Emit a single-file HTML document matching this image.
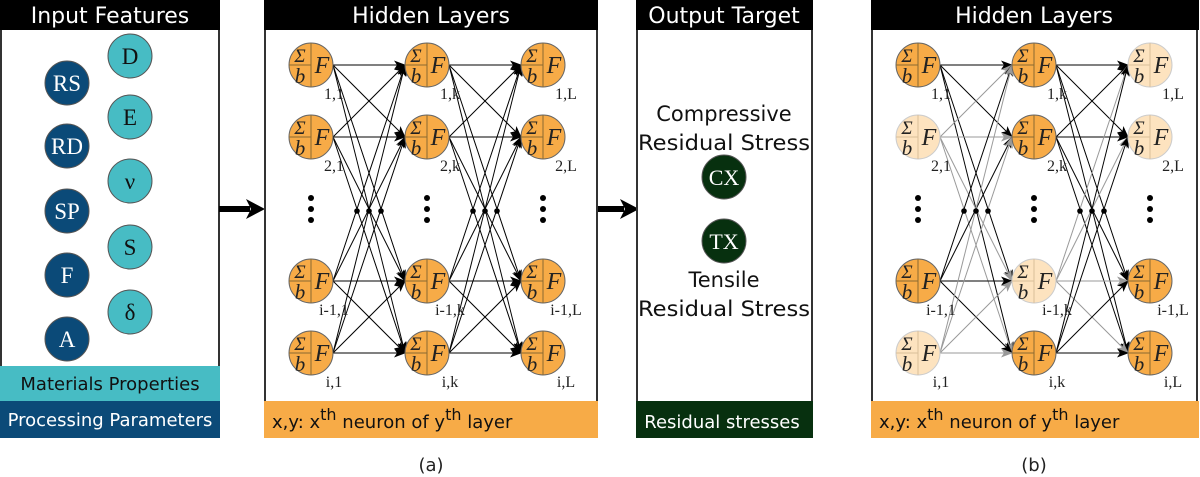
<!DOCTYPE html>
<html><head><meta charset="utf-8"><style>
html,body{margin:0;padding:0;background:#fff;width:1200px;height:477px;overflow:hidden}
svg{display:block}
.h{font-family:"DejaVu Sans","Liberation Sans",sans-serif;font-size:22px;fill:#fff}
.f{font-family:"DejaVu Sans","Liberation Sans",sans-serif;font-size:18px}
.m{font-family:"DejaVu Sans","Liberation Sans",sans-serif;font-size:21px;fill:#111}
.s{font-family:"Liberation Serif",serif}
</style></head><body>
<svg id="s" width="1200" height="477" viewBox="0 0 1200 477" xmlns="http://www.w3.org/2000/svg">
<defs>
<marker id="ab" markerWidth="12" markerHeight="9" refX="11" refY="4.5" orient="auto" markerUnits="userSpaceOnUse"><path d="M0,0 L12,4.5 L0,9 L3,4.5z" fill="#000"/></marker>
<marker id="ag" markerWidth="12" markerHeight="9" refX="11" refY="4.5" orient="auto" markerUnits="userSpaceOnUse"><path d="M0,0 L12,4.5 L0,9 L3,4.5z" fill="#999"/></marker>
</defs>
<rect x="1" y="1" width="218" height="436" fill="#fff" stroke="#333" stroke-width="2"/>
<rect x="0" y="0" width="220" height="30" fill="#000"/>
<text class="h" x="110" y="23" text-anchor="middle">Input Features</text>
<rect x="0" y="366" width="220" height="35" fill="#47bcc4"/>
<text class="f" x="110" y="390" text-anchor="middle" fill="#111">Materials Properties</text>
<rect x="0" y="401" width="220" height="37" fill="#0b4a78"/>
<text class="f" x="110" y="426" text-anchor="middle" fill="#fff">Processing Parameters</text>
<g id="inp"></g>
<path d="M219,209 H250" stroke="#000" stroke-width="6"/><path d="M246,199 L265,209 L246,219 L251,209z" fill="#000"/>
<path d="M597,209 H624" stroke="#000" stroke-width="6"/><path d="M620,199 L639,209 L620,219 L625,209z" fill="#000"/>
<rect x="265" y="1" width="332" height="436" fill="#fff" stroke="#333" stroke-width="2"/>
<rect x="264" y="0" width="334" height="30" fill="#000"/>
<text class="h" x="431" y="23" text-anchor="middle">Hidden Layers</text>
<rect x="264" y="401" width="334" height="37" fill="#f7ab47"/>
<text class="f" x="272" y="428" fill="#111">x,y: x<tspan dy="-8" font-size="16">th</tspan><tspan dy="8"> neuron of y</tspan><tspan dy="-8" font-size="16">th</tspan><tspan dy="8"> layer</tspan></text>
<rect x="637" y="1" width="175" height="436" fill="#fff" stroke="#333" stroke-width="2"/>
<rect x="636" y="0" width="177" height="30" fill="#000"/>
<text class="h" x="724" y="23" text-anchor="middle">Output Target</text>
<rect x="636" y="401" width="177" height="37" fill="#07300f"/>
<text class="f" x="722" y="428" text-anchor="middle" fill="#fff">Residual stresses</text>
<text class="m" x="724" y="121" text-anchor="middle">Compressive</text>
<text class="m" x="724" y="150" text-anchor="middle" textLength="172" lengthAdjust="spacingAndGlyphs">Residual Stress</text>
<text class="m" x="724" y="287" text-anchor="middle">Tensile</text>
<text class="m" x="724" y="316" text-anchor="middle" textLength="172" lengthAdjust="spacingAndGlyphs">Residual Stress</text>
<circle cx="724" cy="177" r="22" fill="#07300f" stroke="#555"/>
<text class="s" x="724" y="185" text-anchor="middle" font-size="22" fill="#fff">CX</text>
<circle cx="724" cy="241" r="22" fill="#07300f" stroke="#555"/>
<text class="s" x="724" y="249" text-anchor="middle" font-size="22" fill="#fff">TX</text>
<rect x="872" y="1" width="325" height="436" fill="#fff" stroke="#333" stroke-width="2"/>
<rect x="871" y="0" width="328" height="30" fill="#000"/>
<text class="h" x="1034" y="23" text-anchor="middle">Hidden Layers</text>
<rect x="871" y="401" width="328" height="37" fill="#f7ab47"/>
<text class="f" x="879" y="428" fill="#111">x,y: x<tspan dy="-8" font-size="16">th</tspan><tspan dy="8"> neuron of y</tspan><tspan dy="-8" font-size="16">th</tspan><tspan dy="8"> layer</tspan></text>
<text class="f" x="431" y="471" text-anchor="middle" font-size="21" fill="#222">(a)</text>
<text class="f" x="1034" y="471" text-anchor="middle" font-size="21" fill="#222">(b)</text>
<g id="net"></g>
</svg>
<script>
var NS="http://www.w3.org/2000/svg";
function el(t,a,p,txt){var e=document.createElementNS(NS,t);for(var k in a)e.setAttribute(k,a[k]);if(txt!=null)e.textContent=txt;(p||document.getElementById('net')).appendChild(e);return e;}
var inp=document.getElementById('inp');
[["RS",83],["RD",146],["SP",211],["F",275],["A",339]].forEach(function(c){el('circle',{cx:67,cy:c[1],r:22,fill:'#0b4a78',stroke:'#555'},inp);el('text',{x:67,y:c[1]+8,'text-anchor':'middle','font-size':23,fill:'#fff','class':'s'},inp,c[0]);});
[["D",56],["E",117],["ν",181],["S",247],["δ",312]].forEach(function(c){el('circle',{cx:130,cy:c[1],r:22,fill:'#47bcc4',stroke:'#555'},inp);el('text',{x:130,y:c[1]+8,'text-anchor':'middle','font-size':23,fill:'#111','class':'s'},inp,c[0]);});
var rows=[65,137,281,353];
var rl=["1","2","i-1","i"];
function panel(xs,faded){
 var cl=["1","k","L"];
 for(var c=0;c<2;c++){for(var a=0;a<4;a++)for(var b=0;b<4;b++){
  var g=faded[c][a];
  el('line',{x1:xs[c]+22,y1:rows[a],x2:xs[c+1]-22,y2:rows[b],stroke:g?'#999':'#000','stroke-width':1,'marker-end':g?'url(#ag)':'url(#ab)'});
 }
 var mx=(xs[c]+xs[c+1])/2;[-12,0,12].forEach(function(d){el('circle',{cx:mx+d,cy:211,r:2.8,fill:'#000'});});
 }
 for(var c=0;c<3;c++){
  [198,209,220].forEach(function(y){el('circle',{cx:xs[c],cy:y,r:3,fill:'#000'});});
  for(var r=0;r<4;r++){
   var x=xs[c],y=rows[r],f=faded[c][r];
   var fill=f?'#fde3bf':'#f7ab47',st=f?'#d9bf9a':'#8a6a30';
   el('circle',{cx:x,cy:y,r:22,fill:fill,stroke:f?'#ccc':'#666'});
   el('line',{x1:x,y1:y-22,x2:x,y2:y+22,stroke:st});
   el('line',{x1:x-22,y1:y,x2:x,y2:y,stroke:st});
   el('text',{x:x-11,y:y-3,'text-anchor':'middle','font-size':19,'font-style':'italic','class':'s',fill:'#222'},null,'Σ');
   el('text',{x:x-11,y:y+18,'text-anchor':'middle','font-size':21,'font-style':'italic','class':'s',fill:'#222'},null,'b');
   el('text',{x:x+11,y:y+8,'text-anchor':'middle','font-size':24,'font-style':'italic','class':'s',fill:'#222'},null,'F');
   el('text',{x:x+23,y:y+34,'text-anchor':'middle','font-size':16,'class':'s',fill:'#222'},null,rl[r]+','+cl[c]);
  }
 }
}
panel([311,427,543],[[0,0,0,0],[0,0,0,0],[0,0,0,0]]);
panel([918,1034,1150],[[0,1,0,1],[0,0,1,0],[1,1,0,0]]);
</script>
</body></html>
